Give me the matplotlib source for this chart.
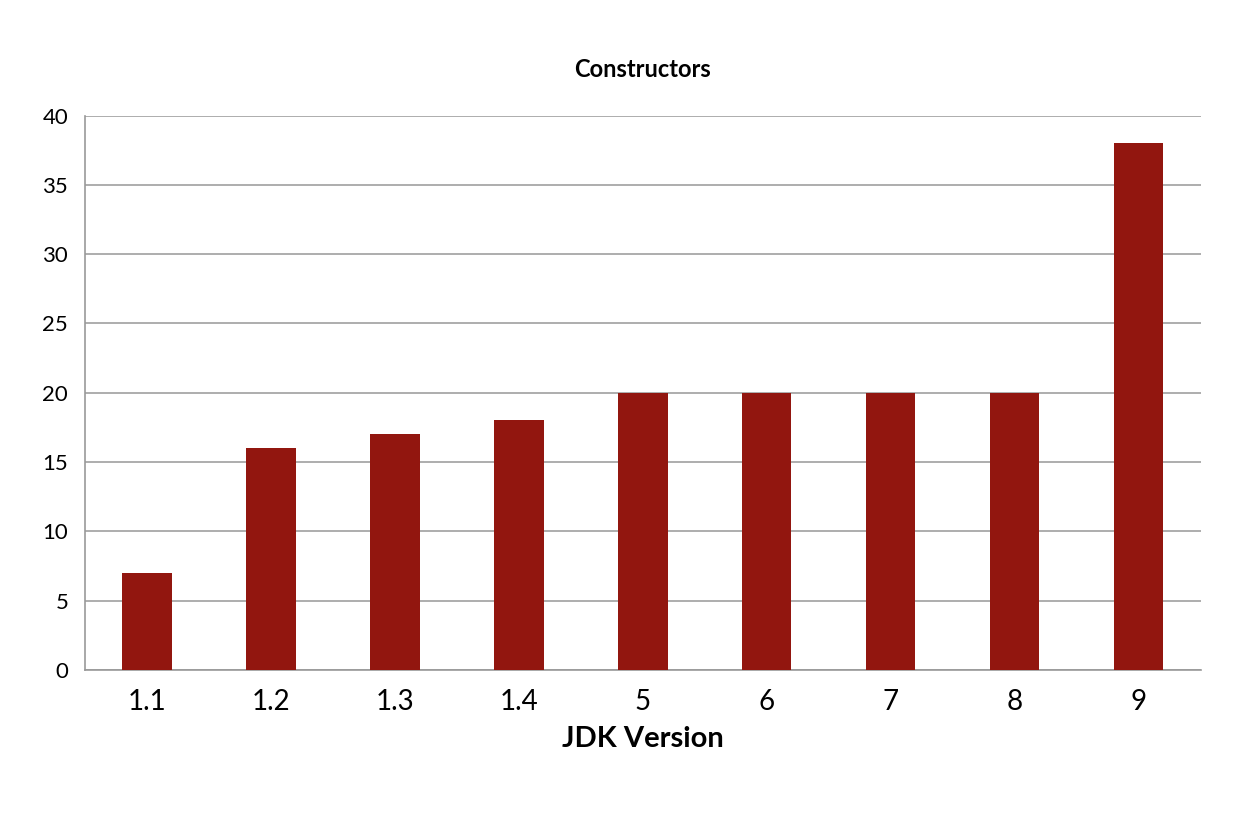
import matplotlib
matplotlib.use("Agg")
import matplotlib.pyplot as plt

# Data
versions = ["1.1", "1.2", "1.3", "1.4", "5", "6", "7", "8", "9"]
constructors = [7, 16, 17, 18, 20, 20, 20, 20, 38]

plt.rcParams['font.family'] = ['Lato', 'DejaVu Sans']

fig = plt.figure(figsize=(12.48, 8.14), dpi=100)
ax = fig.add_axes([0.068, 0.177, 0.894, 0.681])

x = range(len(versions))
ax.bar(x, constructors, width=0.4, color='#92160f', zorder=3)

ax.set_xlim(-0.5, len(versions) - 0.5)
ax.set_ylim(0, 40)
ax.set_yticks(range(0, 41, 5))
ax.set_xticks(list(x))
ax.set_xticklabels(versions)
ax.grid(axis='y', color='#a0a0a0', linewidth=1.2, zorder=0)

for side in ['top', 'right']:
    ax.spines[side].set_visible(False)
for side in ['left', 'bottom']:
    ax.spines[side].set_color('#999999')
    ax.spines[side].set_linewidth(1.2)

ax.tick_params(axis='y', labelsize=16, length=0, pad=12)
ax.tick_params(axis='x', labelsize=20, length=0, pad=14)

ax.set_title("Constructors", fontsize=17, fontweight='bold', pad=28)
ax.set_xlabel("JDK Version", fontsize=21, fontweight='bold', labelpad=8)

plt.savefig("out.png", dpi=100)
